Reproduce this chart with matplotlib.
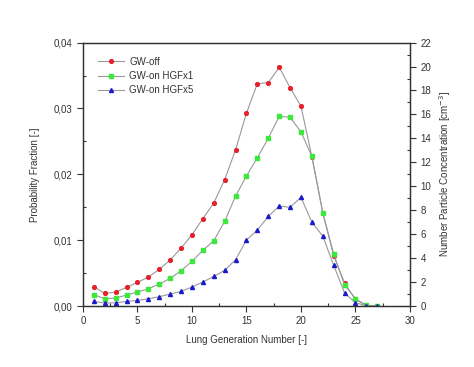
import matplotlib.pyplot as plt
from matplotlib.ticker import MultipleLocator, FuncFormatter

plt.rcParams['font.family'] = ['Liberation Sans', 'DejaVu Sans']

generation = list(range(1, 28))
gw_off = [0.00294, 0.00192, 0.00213, 0.00284, 0.0036, 0.0044, 0.00557, 0.00699, 0.0088,
          0.01084, 0.01327, 0.01565, 0.0192, 0.0237, 0.0293, 0.03377, 0.0339, 0.03625,
          0.03316, 0.03033, 0.02268, 0.01418, 0.0076, 0.0035, 0.001, 0.0001, 0.0]
gw_on_x1 = [0.00172, 0.00111, 0.00122, 0.00167, 0.00213, 0.00263, 0.00334, 0.0042, 0.00537,
            0.00678, 0.00846, 0.00992, 0.01286, 0.01671, 0.01975, 0.02253, 0.02547, 0.02881,
            0.02866, 0.02643, 0.02273, 0.01413, 0.0079, 0.0032, 0.0011, 0.0001, 0.0]
gw_on_x5 = [0.00071, 0.00046, 0.0005, 0.00071, 0.00086, 0.00111, 0.00142, 0.00182, 0.00223,
            0.00289, 0.00365, 0.00451, 0.00542, 0.00704, 0.01003, 0.01154, 0.01362, 0.01519,
            0.01499, 0.01651, 0.01271, 0.01063, 0.00618, 0.00197, 0.0005, 0.00005, 0.0]

fig = plt.figure(figsize=(4.74, 3.67), dpi=100)
ax = fig.add_axes([0.175, 0.166, 0.69, 0.718])

fs = 7
line_col = '#999999'
ax.plot(generation, gw_off, color=line_col, lw=0.8, marker='o', ms=2.7,
        mfc='#e8202a', mec='#e8202a', label='GW-off')
ax.plot(generation, gw_on_x1, color=line_col, lw=0.8, marker='s', ms=2.5,
        mfc='#3de83d', mec='#3de83d', label='GW-on HGFx1')
ax.plot(generation, gw_on_x5, color=line_col, lw=0.8, marker='^', ms=2.9,
        mfc='#1a1acc', mec='#1a1acc', label='GW-on HGFx5')

ax.set_xlim(0, 30)
ax.set_ylim(0, 0.04)
ax.xaxis.set_major_locator(MultipleLocator(5))
ax.xaxis.set_minor_locator(MultipleLocator(2.5))
ax.yaxis.set_major_locator(MultipleLocator(0.01))
ax.yaxis.set_minor_locator(MultipleLocator(0.005))
ax.yaxis.set_major_formatter(FuncFormatter(lambda v, p: f'{v:.2f}'.replace('.', ',')))

for s in ax.spines.values():
    s.set_color('#333333')
    s.set_linewidth(0.9)

ax.tick_params(which='major', direction='out', length=4, width=0.8, colors='#333333',
               labelsize=fs, labelcolor='#333333')
ax.tick_params(which='minor', direction='in', length=2.5, width=0.8, colors='#333333')

ax.set_xlabel('Lung Generation Number [-]', fontsize=fs, color='#333333', labelpad=6)
ax.set_ylabel('Probability Fraction [-]', fontsize=fs, color='#333333', labelpad=10)

ax2 = ax.twinx()
ax2.set_ylim(0, 22)
ax2.yaxis.set_major_locator(MultipleLocator(2))
ax2.yaxis.set_minor_locator(MultipleLocator(1))
ax2.tick_params(which='major', direction='out', length=4, width=0.8, colors='#333333',
                labelsize=fs, labelcolor='#333333')
ax2.tick_params(which='minor', direction='in', length=2.5, width=0.8, colors='#333333')
ax2.set_ylabel('Number Particle Concentration [cm$^{-3}$]', fontsize=fs, color='#333333',
               labelpad=4)
for s in ax2.spines.values():
    s.set_color('#333333')
    s.set_linewidth(0.9)

leg = ax.legend(loc='upper left', bbox_to_anchor=(0.02, 0.98), frameon=False, fontsize=fs,
                handlelength=2.6, handletextpad=0.6, labelspacing=0.45, numpoints=1)
for t in leg.get_texts():
    t.set_color('#333333')

fig.savefig('out.png', dpi=100)
